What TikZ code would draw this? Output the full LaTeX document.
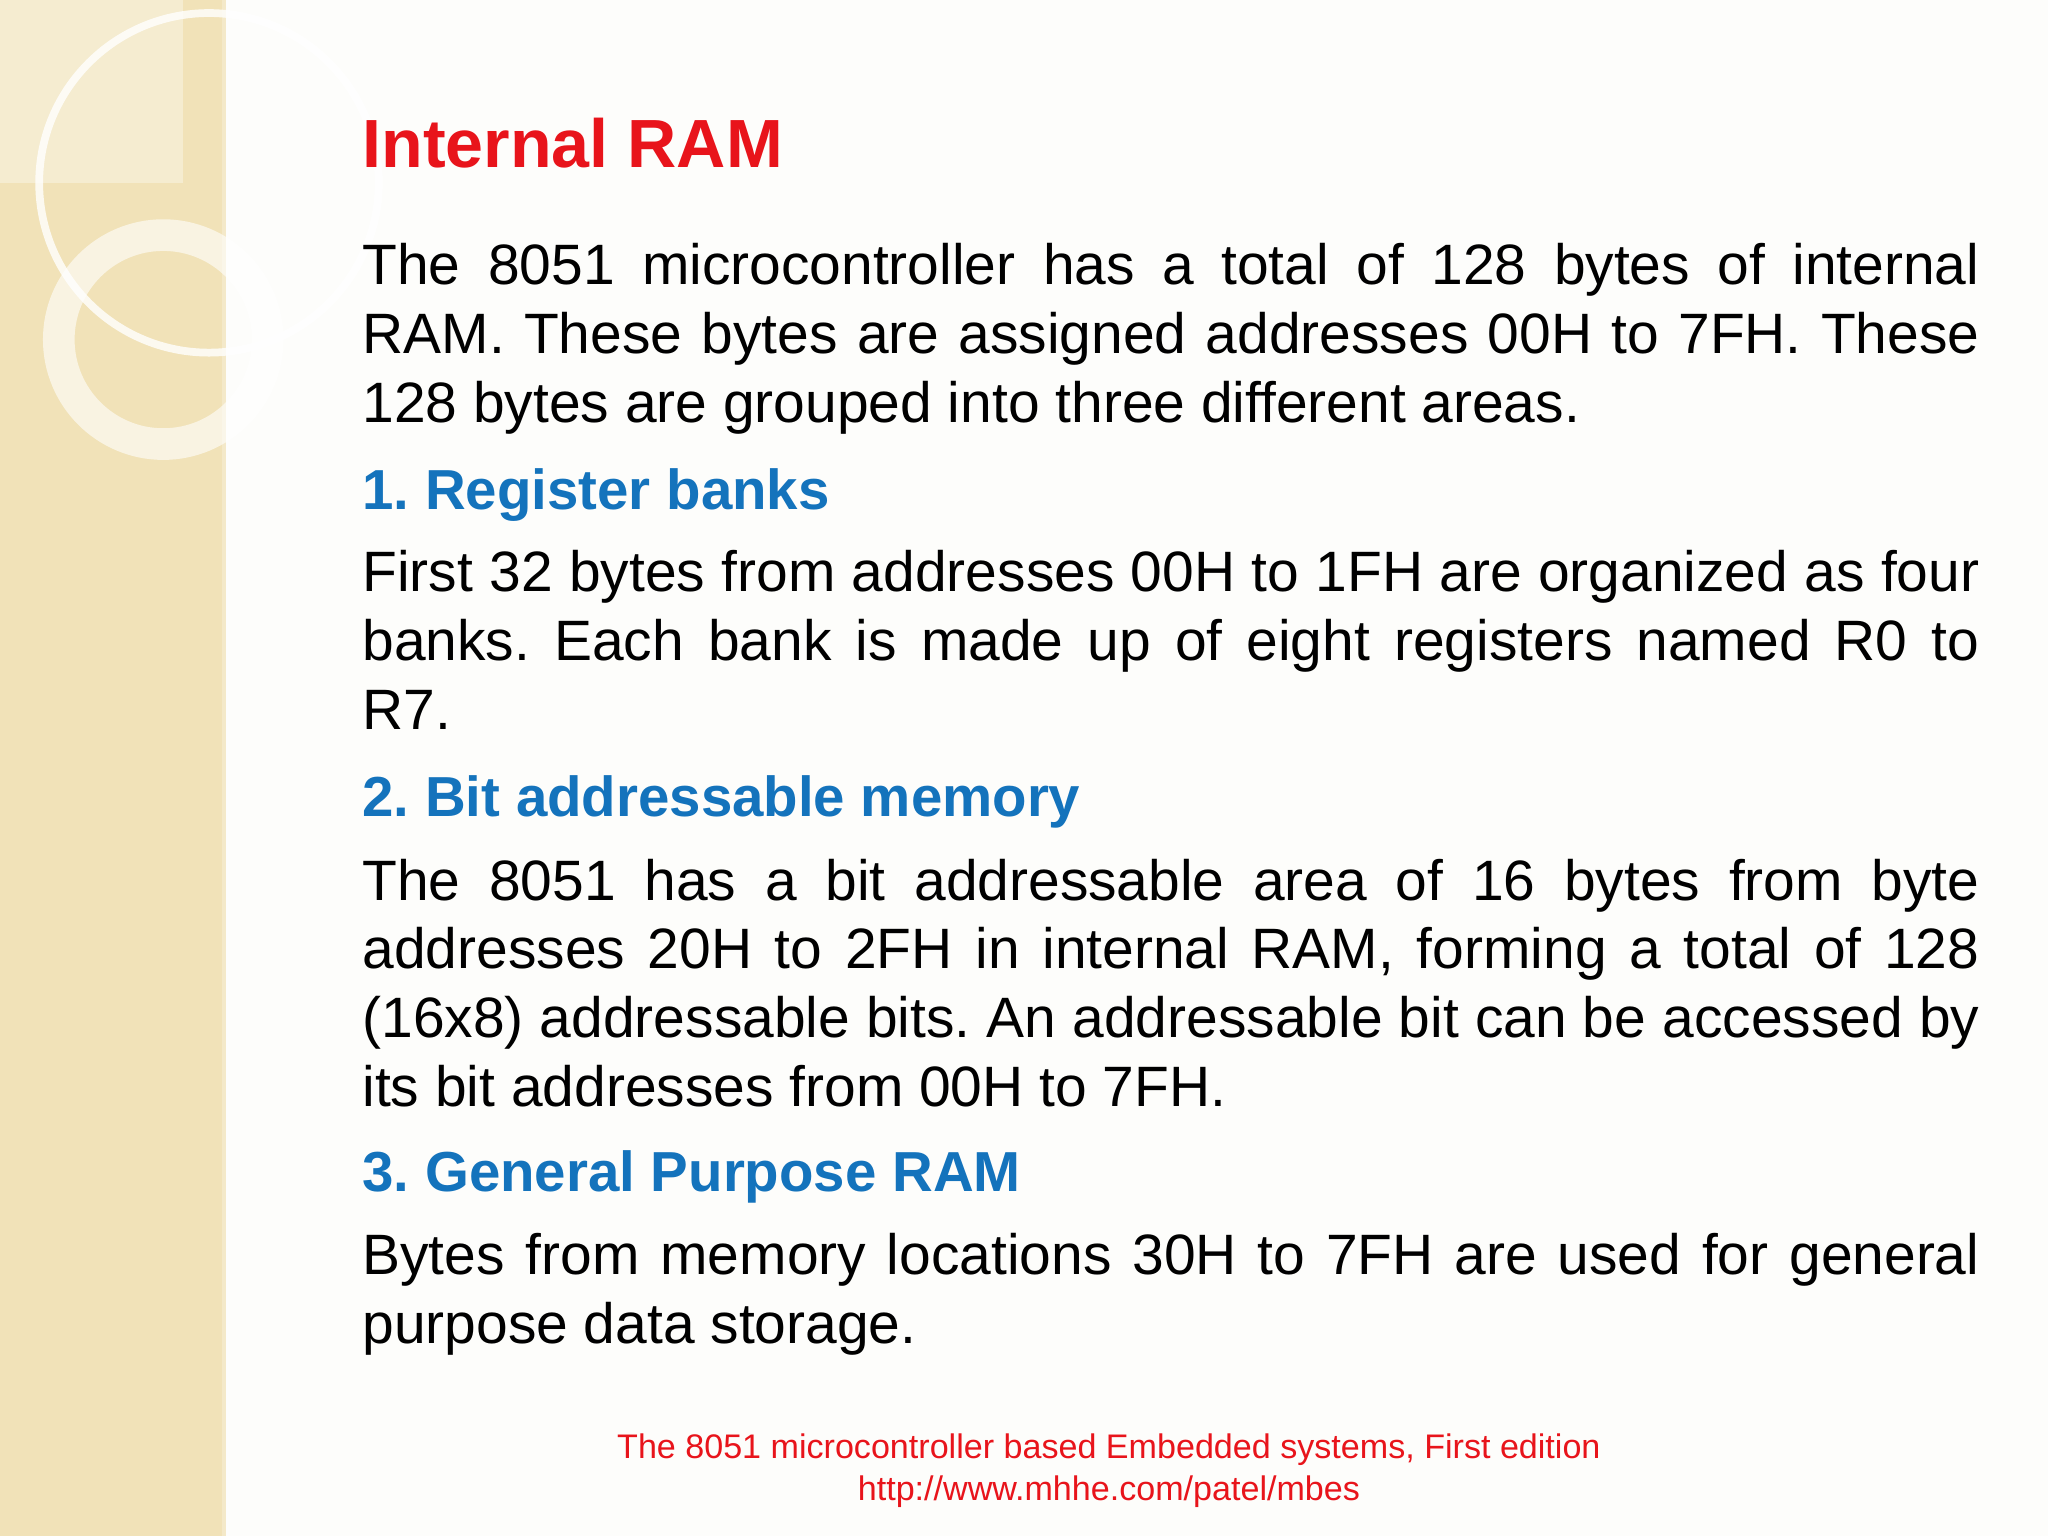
\documentclass[tikz,border=0pt]{standalone}
\usepackage{fontspec}
\setmainfont{Liberation Sans}
\frenchspacing
\hyphenpenalty=10000
\definecolor{titlered}{HTML}{E8141B}
\definecolor{headblue}{HTML}{1473BC}
\definecolor{beige}{HTML}{F1E2B8}
\definecolor{pagebg}{HTML}{FDFDFB}
\begin{document}
\begin{tikzpicture}[x=0.013061cm,y=-0.013061cm,
  body/.style={anchor=north west,inner sep=0pt,text width=16.17cm,align=justify,font=\fontsize{16.2}{19.6}\selectfont},
  head/.style={anchor=base west,inner sep=0pt,text=headblue,font=\fontsize{16.05}{18}\selectfont\bfseries},
  foot/.style={anchor=base,inner sep=0pt,text=titlered,font=\fontsize{9.7}{11}\selectfont}]
\fill[pagebg] (0,0) rectangle (1568,1176);
\useasboundingbox (0,0) rectangle (1568,1176);
\fill[beige] (0,0) rectangle (173,1176);
\fill[white,opacity=0.35] (0,0) rectangle (140,140);
\draw[white,line width=2.2pt,opacity=0.8] (160,140) circle (130);
\draw[white,line width=9pt,opacity=0.6] (125,260) circle (80);
\fill[white,opacity=0.25] (170,0) rectangle (175,1176);
\node[anchor=base west,inner sep=0pt,text=titlered,font=\fontsize{19.4}{22}\selectfont\bfseries] (title) at (277,128) {Internal RAM};
\node[body] (p1) at (277,186) {The 8051 microcontroller has a total of 128 bytes of internal\linebreak RAM. These bytes are assigned addresses 00H to 7FH. These\linebreak 128 bytes are grouped into three different areas.};
\node[head] (h1) at (277,390) {1. Register banks};
\node[body] (p2) at (277,421) {First 32 bytes from addresses 00H to 1FH are organized as four\linebreak banks. Each bank is made up of eight registers named R0 to\linebreak R7.};
\node[head] (h2) at (277,625) {2. Bit addressable memory};
\node[body] (p3) at (277,657) {The 8051 has a bit addressable area of 16 bytes from byte\linebreak addresses 20H to 2FH in internal RAM, forming a total of 128\linebreak (16x8) addressable bits. An addressable bit can be accessed by\linebreak its bit addresses from 00H to 7FH.};
\node[head] (h3) at (277,912) {3. General Purpose RAM};
\node[body] (p4) at (277,944) {Bytes from memory locations 30H to 7FH are used for general purpose data storage.};
\node[foot] (f1) at (849,1117) {The 8051 microcontroller based Embedded systems, First edition};
\node[foot] (f2) at (849,1149) {http://www.mhhe.com/patel/mbes};
\end{tikzpicture}
\end{document}
